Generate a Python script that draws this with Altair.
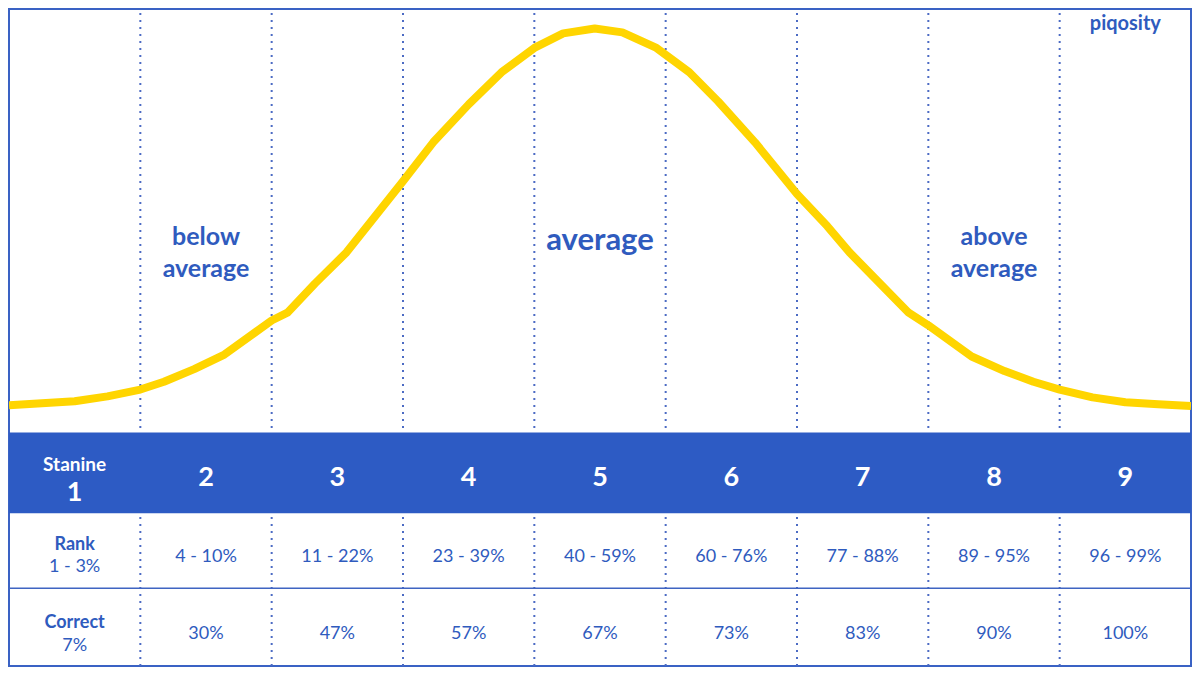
import altair as alt
import pandas as pd

# ---- data ----
curve_x = [0, 0.25, 0.5, 0.75, 1.0, 1.18, 1.41, 1.64, 2.0, 2.12, 2.33, 2.57, 3.0, 3.23, 3.5,
           3.75, 4.0, 4.22, 4.46, 4.67, 4.93, 5.18, 5.4, 5.68, 6.0, 6.23, 6.4, 6.85, 7.0,
           7.33, 7.58, 7.8, 8.0, 8.25, 8.5, 8.75, 9.0]
curve_y = [268, 270, 272, 277, 284, 292, 305, 320, 355, 363, 393, 425, 498, 538, 577,
           610, 635, 650, 655, 651, 635, 610, 580, 538, 485, 452, 425, 363, 350,
           318, 303, 292, 284, 276, 271, 269, 267]

stanines = ["1", "2", "3", "4", "5", "6", "7", "8", "9"]
ranks = ["1 - 3%", "4 - 10%", "11 - 22%", "23 - 39%", "40 - 59%", "60 - 76%", "77 - 88%", "89 - 95%", "96 - 99%"]
correct = ["7%", "30%", "47%", "57%", "67%", "73%", "83%", "90%", "100%"]
row_titles = ["Stanine", "Rank", "Correct"]
boundaries = [1, 2, 3, 4, 5, 6, 7, 8]
zone_labels = ["below\naverage", "average", "above\naverage"]
zone_centers = [1.5, 4.5, 7.5]

# layout levels (vertical units, 0 = bottom, 675 = top)
TOP = 675
BAND = (157, 240)
ROW_LINE = 80

BLUE = "#2D5BC4"
TEXT_BLUE = "#2F5BBE"
DOT_BLUE = "#4C6BC4"
YELLOW = "#FFD500"
FONT = "Lato"

xs = alt.Scale(domain=[0, 9], nice=False, zero=False)
ys = alt.Scale(domain=[0, TOP], nice=False, zero=False)
X = lambda f: alt.X(f, type="quantitative", scale=xs, axis=None)
Y = lambda f: alt.Y(f, type="quantitative", scale=ys, axis=None)

curve_df = pd.DataFrame({"x": curve_x, "y": curve_y})
bound_df = pd.DataFrame({"x": boundaries, "y0": [0] * len(boundaries), "y1": [TOP] * len(boundaries)})
band_df = pd.DataFrame({"x0": [0], "x1": [9], "y0": [BAND[0]], "y1": [BAND[1]]})
rowline_df = pd.DataFrame({"x0": [0], "x1": [9], "y": [ROW_LINE]})

centers = [i + 0.5 for i in range(9)]


def text_layer(xv, yv, tv, **kw):
    df = pd.DataFrame({"x": xv, "y": yv, "t": tv})
    return alt.Chart(df).mark_text(font=FONT, baseline="middle", **kw).encode(
        x=X("x"), y=Y("y"), text="t:N")


rules = alt.Chart(bound_df).mark_rule(color=DOT_BLUE, strokeWidth=2, strokeDash=[2, 5]).encode(
    x=X("x"), y=Y("y0"), y2="y1")

line = alt.Chart(curve_df).mark_line(color=YELLOW, strokeWidth=8, strokeJoin="round", clip=True).encode(
    x=X("x"), y=Y("y"), order="x:Q")

band = alt.Chart(band_df).mark_rect(color=BLUE).encode(
    x=X("x0"), x2="x1", y=Y("y0"), y2="y1")

rowline = alt.Chart(rowline_df).mark_rule(color="#3F64C2", strokeWidth=1.5).encode(
    x=X("x0"), x2="x1", y=Y("y"))

head = text_layer(centers[1:], [193] * 8, stanines[1:], fontWeight="bold", fontSize=27, color="white")
head_title = text_layer([centers[0]], [207], [row_titles[0]], fontWeight="bold", fontSize=19, color="white")
head_first = text_layer([centers[0]], [178], [stanines[0]], fontWeight="bold", fontSize=27, color="white")

rank = text_layer(centers[1:], [112] * 8, ranks[1:], fontSize=18, color=TEXT_BLUE)
rank_title = text_layer([centers[0]], [124], [row_titles[1]], fontWeight="bold", fontSize=18, color=TEXT_BLUE)
rank_first = text_layer([centers[0]], [102], [ranks[0]], fontSize=18, color=TEXT_BLUE)

corr = text_layer(centers[1:], [33] * 8, correct[1:], fontSize=18, color=TEXT_BLUE)
corr_title = text_layer([centers[0]], [44], [row_titles[2]], fontWeight="bold", fontSize=18, color=TEXT_BLUE)
corr_first = text_layer([centers[0]], [21], [correct[0]], fontSize=18, color=TEXT_BLUE)

side_zones = text_layer([zone_centers[0], zone_centers[2]], [441, 441], [zone_labels[0], zone_labels[2]],
                        fontWeight="bold", fontSize=25, color=TEXT_BLUE, lineBreak="\n", lineHeight=32)
mid_zone = text_layer([zone_centers[1]], [437], [zone_labels[1]], fontWeight="bold", fontSize=31, color=TEXT_BLUE)

brand = text_layer([8.5], [660], ["piqosity"], fontWeight="bold", fontSize=20, color=TEXT_BLUE)

chart = alt.layer(rules, line, band, rowline, head, head_title, head_first, rank, rank_title, rank_first,
                  corr, corr_title, corr_first, side_zones, mid_zone, brand).properties(
    width=1184, height=659, padding=0,
    autosize=alt.AutoSizeParams(type="fit", contains="padding"),
    background="white",
).configure_view(stroke="#3A62C4", strokeWidth=2)

chart.save("out.html", embed_options={"renderer": "svg", "actions": False})
